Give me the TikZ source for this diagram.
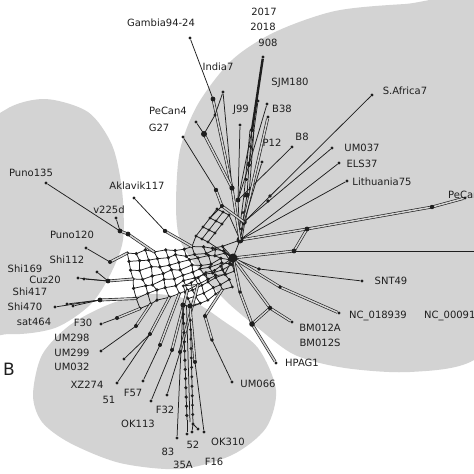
\documentclass[tikz,border=0pt]{standalone}
\usepackage{fontspec}
\setmainfont{DejaVu Sans}
\usetikzlibrary{calc}
\definecolor{blobgray}{RGB}{211,211,211}
\definecolor{ink}{RGB}{30,30,30}
\begin{document}
\begin{tikzpicture}[x=1pt,y=-1pt,
  edge/.style={line width=0.75pt, ink},
  band/.style={double=blobgray, double distance=1.5pt, line width=0.65pt, ink},
  thickband/.style={line width=2.4pt, ink},
  leaf/.style={circle, fill=ink, inner sep=0pt, minimum size=3.2pt},
  lab/.style={font=\fontsize{10}{11}\selectfont, inner sep=0pt, text=black!88}]
\useasboundingbox (0,0) rectangle (474,474);
\clip (0,0) rectangle (474,474);
% blobs
\fill[blobgray] plot[smooth cycle] coordinates {(-30,150) (5,110) (45,99) (88,112) (112,145) (122,190) (123,240) (110,275) (90,305) (55,328) (10,334) (-30,322)};
\fill[blobgray] plot[smooth cycle] coordinates {(176,205) (180,150) (198,104) (232,60) (275,32) (335,11) (405,4) (480,2) (530,100) (530,300) (474,360) (410,372) (345,368) (295,355) (258,328) (225,300) (198,268) (180,240)};
\fill[blobgray] plot[smooth cycle] coordinates {(33,395) (42,355) (70,325) (110,304) (150,294) (190,300) (222,320) (258,348) (276,390) (266,428) (232,455) (180,469) (120,463) (70,443) (42,422)};
% leaves
\node[leaf] (gam) at (190,38) {};
\node[leaf] (n908) at (263,57) {};
\node[leaf] (ind) at (223,92) {};
\node[leaf] (sjm) at (258,101) {};
\node[leaf] (b38a) at (267,104) {};
\node[leaf] (b38b) at (268,117) {};
\node[leaf] (j99) at (240,125) {};
\node[leaf] (pec4) at (196,122) {};
\node[leaf] (g27) at (183,137) {};
\node[leaf] (p12) at (262,162) {};
\node[leaf] (b8) at (292,147) {};
\node[leaf] (saf) at (372,95) {};
\node[leaf] (um037) at (332,148) {};
\node[leaf] (els) at (339,163) {};
\node[leaf] (lit) at (347,181) {};
\node[leaf] (pecan) at (465,198) {};
\node[leaf] (snt) at (362,281) {};
\node[leaf] (nc1) at (339,313) {};
\node[leaf] (bm) at (292,322) {};
\node[leaf] (hpag) at (276,363) {};
\node[leaf] (um066) at (232,382) {};
\node[leaf] (ok310) at (204,432) {};
\node[leaf] (f16) at (198,429) {};
\node[leaf] (n52) at (192,432) {};
\node[leaf] (n35a) at (187,434) {};
\node[leaf] (l83) at (177,438) {};
\node[leaf] (f32) at (167,395) {};
\node[leaf] (n51) at (151,401) {};
\node[leaf] (f57) at (143,381) {};
\node[leaf] (xz) at (117,383) {};
\node[leaf] (um298) at (124,359) {};
\node[leaf] (um299) at (101,351) {};
\node[leaf] (f30) at (101,324) {};
\node[leaf] (shi470) at (55,307) {};
\node[leaf] (sat) at (67,304) {};
\node[leaf] (shi417) at (73,306) {};
\node[leaf] (cuz) at (78,278) {};
\node[leaf] (shi169) at (84,279) {};
\node[leaf] (shi112) at (86,248) {};
\node[leaf] (puno135) at (46,183) {};
\node[leaf] (puno120) at (97,272) {};
\node[leaf] (v225) at (116,218) {};
\node[leaf] (akl) at (134,198) {};
% inner points
\coordinate (K0) at (233,258);
\coordinate (K1) at (240,240);
\coordinate (K2) at (244,222);
\coordinate (K3) at (238,200);
\coordinate (pR1) at (307,229);
\coordinate (pR2) at (432,207);
\coordinate (hR) at (294,251);
\coordinate (hE) at (480,251);
\coordinate (s1) at (259,269);
\coordinate (n1) at (280,287);
\coordinate (b1) at (270,308);
\coordinate (hp) at (252,324);
\coordinate (hq) at (240,292);
\coordinate (g1) at (213,99);
\coordinate (g2) at (232,188);
\coordinate (pc) at (204,134);
\coordinate (pd) at (215,115);
\coordinate (g3) at (216,190);
\coordinate (g4) at (222,206);
\coordinate (t1) at (252,130);
\coordinate (t2) at (247,195);
\coordinate (t3) at (249,165);
\coordinate (a1) at (165,231);
\coordinate (p1) at (120,231);
\coordinate (p2) at (128,234);
\coordinate (l1) at (110,262);
\coordinate (l2) at (108,281);
\coordinate (l3) at (100,300);
\coordinate (q1) at (117,318);
\coordinate (q2) at (136,326);
\coordinate (q3) at (150,334);
\coordinate (q4) at (160,345);
\coordinate (q5) at (172,350);
\coordinate (q6) at (180,352);
\coordinate (bt) at (183,305);
\coordinate (bb) at (187,420);
\coordinate (bt2) at (190,306);
\coordinate (bb2) at (193,424);
\coordinate (q7) at (195,362);
\coordinate (u1) at (212,340);
\coordinate (u2) at (205,316);
\coordinate (m1) at (270,196);
\coordinate (m2) at (268,201);
% fan-shaped lattice web
\pgfmathsetseed{11}
\foreach \i in {0,...,10}{\foreach \j in {0,...,6}{
  \pgfmathsetmacro\cy{280-2.2*\i}
  \pgfmathsetmacro\hh{27-1.5*\i}
  \pgfmathsetmacro\wx{126+9.6*\i+2.2*\j+2*rand}
  \pgfmathsetmacro\wy{\cy+(\j/3-1)*\hh+2*rand}
  \coordinate (w-\i-\j) at (\wx,\wy);
}}
\foreach \i [evaluate=\i as \ni using int(\i+1)] in {0,...,9}{\foreach \j in {0,...,6}{\draw[edge] (w-\i-\j) -- (w-\ni-\j);}}
\foreach \i in {0,...,10}{\foreach \j [evaluate=\j as \nj using int(\j+1)] in {0,...,5}{\draw[edge] (w-\i-\j) -- (w-\i-\nj);}}
\foreach \i in {0,...,10}{\foreach \j in {0,...,6}{\fill[ink] (w-\i-\j) circle (1.8pt);}}
% lower web
\foreach \i in {0,...,5}{\foreach \j in {0,...,3}{
  \pgfmathsetmacro\zx{182+8*\i+3*\j+1.5*rand}
  \pgfmathsetmacro\zy{286-4*\i+7*\j+1.5*rand}
  \coordinate (z-\i-\j) at (\zx,\zy);
}}
\foreach \i [evaluate=\i as \ni using int(\i+1)] in {0,...,4}{\foreach \j in {0,...,3}{\draw[edge] (z-\i-\j) -- (z-\ni-\j);}}
\foreach \i in {0,...,5}{\foreach \j [evaluate=\j as \nj using int(\j+1)] in {0,...,2}{\draw[edge] (z-\i-\j) -- (z-\i-\nj);}}
\foreach \i in {0,...,5}{\foreach \j in {0,...,3}{\fill[ink] (z-\i-\j) circle (1.6pt);}}
\draw[edge] (z-5-0) -- (K0);
\draw[edge] (z-5-1) -- (K0);
\draw[edge] (z-0-0) -- (w-6-6);
% small upper web
\foreach \i in {0,...,3}{\foreach \j in {0,...,2}{
  \coordinate (v-\i-\j) at ({196+7*\i+6*\j},{236-9*\i+3*\j});
}}
\foreach \i [evaluate=\i as \ni using int(\i+1)] in {0,...,2}{\foreach \j in {0,...,2}{\draw[edge] (v-\i-\j) -- (v-\ni-\j);}}
\foreach \i in {0,...,3}{\foreach \j [evaluate=\j as \nj using int(\j+1)] in {0,...,1}{\draw[edge] (v-\i-\j) -- (v-\i-\nj);}}
\foreach \i in {0,...,3}{\foreach \j in {0,...,2}{\fill[ink] (v-\i-\j) circle (1.6pt);}}
\draw[edge] (v-3-2) -- (K1);
\draw[edge] (v-0-0) -- (w-7-0);
\draw[edge] (v-0-2) -- (K0);
% right side
\draw[band] (pecan) -- (pR2) -- (pR1) -- (K1);
\draw[edge] (hE) -- (hR);
\draw[band] (hR) -- (K0);
\draw[band] (hR) -- (pR1);
\draw[edge] (lit) -- (K1);
\draw[edge] (els) -- (K1);
\draw[edge] (um037) -- (K2);
\draw[edge] (saf) -- (K2);
\draw[edge] (b8) -- (K3);
\draw[edge] (snt) -- (s1) -- (K0);
\draw[band] (nc1) -- (n1) -- (K0);
\draw[band] (bm) -- (b1) -- (K0);
\draw[band] (hpag) -- (hp) -- (hq) -- (K0);
\draw[band] (hp) -- (b1);
\draw[edge] (K0) -- (K1) -- (K2);
\fill[ink] (pR1) circle (2.4pt) (pR2) circle (2.2pt) (hR) circle (2.4pt) (s1) circle (1.8pt) (n1) circle (1.8pt) (b1) circle (2.2pt) (hp) circle (2.8pt) (hq) circle (1.8pt) (m1) circle (1.8pt) (m2) circle (1.8pt);
\fill[ink] (K0) circle (4.5pt) (K1) circle (3.5pt) (K2) circle (2.8pt) (K3) circle (2.4pt);
% upper
\draw[thickband] (n908) -- (t1);
\draw[edge] (t1) -- (t3) -- (t2) -- (K1);
\draw[edge] ($(t1)+(-2,0)$) -- ($(t2)+(-3,0)$) -- ($(K1)+(-2,0)$);
\draw[edge] ($(t1)+(2,0)$) -- ($(t2)+(2,0)$) -- ($(K1)+(2,0)$);
\draw[edge] (sjm) -- (t3) -- (K3);
\draw[edge] (b38a) -- (t3);
\draw[band] (b38b) -- (K2);
\draw[edge] (j99) -- (K3) -- (K1);
\draw[edge] (ind) -- (g2);
\draw[edge] (gam) -- (g1);
\draw[band] (g1) -- (g2) -- (K1);
\draw[edge] (pec4) -- (pc);
\draw[band] (pc) -- (g2);
\draw[edge] (pc) -- (pd) -- (ind);
\draw[edge] (g27) -- (g3);
\draw[band] (g3) -- (g4) -- (K2);
\draw[edge] (g4) -- (v-2-0);
\draw[edge] (p12) -- (K2);
\draw[edge] (t1) -- (K3);
\foreach \t in {0.15,0.3,...,0.95}{\fill[ink] ($(t1)!\t!(K1)$) circle (1.6pt);}
\fill[ink] (g1) circle (2.4pt) (pc) circle (3pt) (pd) circle (1.6pt) (g2) circle (2.6pt) (g3) circle (2.2pt) (g4) circle (2pt) (t1) circle (2pt) (t2) circle (2.6pt) (t3) circle (2pt);
% left
\draw[edge] (akl) -- (a1);
\draw[band] (a1) -- (w-7-0);
\draw[edge] (puno135) -- (p1);
\draw[edge] (v225) -- (p1);
\draw[band] (p1) -- (p2) -- (w-3-0);
\draw[edge] (shi112) -- (l1);
\draw[band] (l1) -- (w-0-0);
\draw[edge] (cuz) -- (l2);
\draw[edge] (shi169) -- (l2);
\draw[edge] (puno120) -- (l2);
\draw[band] (l2) -- (w-0-3);
\draw[edge] (shi470) -- (l3);
\draw[edge] (sat) -- (l3);
\draw[edge] (shi417) -- (l3);
\draw[band] (l3) -- (w-0-5);
\foreach \j in {0,...,6}{\draw[edge] (w-10-\j) -- (K0);}
\draw[edge] (w-10-0) -- (K1);
\fill[ink] (a1) circle (2.2pt) (p1) circle (2.4pt) (p2) circle (2.4pt) (l1) circle (2pt) (l2) circle (2.4pt) (l3) circle (2.4pt);
% bottom
\draw[edge] (f30) -- (q1);
\draw[band] (q1) -- (w-0-6);
\draw[edge] (um299) -- (q2);
\draw[band] (q2) -- (w-1-6);
\draw[edge] (um298) -- (q3);
\draw[edge] (xz) -- (q3);
\draw[band] (q3) -- (w-3-6);
\draw[edge] (f57) -- (q4);
\draw[band] (q4) -- (w-4-6);
\draw[edge] (n51) -- (q5);
\draw[band] (q5) -- (w-5-6);
\draw[edge] (f32) -- (q6);
\draw[band] (q6) -- (w-6-6);
\draw[edge] (bt) -- (bb);
\draw[edge] (bt2) -- (bb2);
\draw[edge] ($(bt)!0.5!(bt2)$) -- ($(bb)!0.5!(bb2)$);
\draw[edge] (l83) -- (bt);
\draw[edge] (n35a) -- (bb);
\draw[edge] (n52) -- (bb2);
\draw[edge] (f16) -- (bb2);
\draw[edge] (ok310) -- (q7);
\draw[band] (q7) -- (bt2);
\draw[edge] (bt) -- (z-0-3);
\draw[edge] (bt2) -- (z-1-3);
\draw[edge] (um066) -- (u1);
\draw[band] (u1) -- (u2) -- (z-4-3);
\foreach \t in {0.08,0.16,...,1.0}{\fill[ink] ($(bt)!\t!(bb)$) circle (1.8pt); \fill[ink] ($(bt2)!\t+0.04!(bb2)$) circle (1.6pt);}
\fill[ink] (q1) circle (2pt) (q2) circle (2pt) (q3) circle (2pt) (q4) circle (2pt) (q5) circle (2pt) (q6) circle (2pt) (q7) circle (2pt) (u1) circle (1.8pt) (u2) circle (2pt) (bt) circle (2.6pt) (bt2) circle (2.6pt);
% labels
\node[lab] (tgam) at (161,23) {Gambia94-24};
\node[lab] (t2017) at (264,12) {2017};
\node[lab] (t2018) at (263,27) {2018};
\node[lab] (t908) at (268,43) {908};
\node[lab] (tind) at (218,67) {India7};
\node[lab] (tsjm) at (290,83) {SJM180};
\node[lab] (tpec4) at (168,111) {PeCan4};
\node[lab] (tg27) at (159,128) {G27};
\node[lab] (tj99) at (241,110) {J99};
\node[lab] (tb38) at (282,109) {B38};
\node[lab] (tsaf) at (405,91) {S.Africa7};
\node[lab] (tp12) at (272,143) {P12};
\node[lab] (tb8) at (302,137) {B8};
\node[lab] (tum037) at (362,148) {UM037};
\node[lab] (tels) at (362,164) {ELS37};
\node[lab] (tlit) at (382,182) {Lithuania75};
\node[lab, anchor=west] (tpecan) at (448,195) {PeCan18};
\node[lab] (tsnt) at (391,281) {SNT49};
\node[lab] (tnc1) at (378,316) {NC\_018939};
\node[lab, anchor=west] (tnc2) at (424,316) {NC\_000915};
\node[lab] (tbma) at (320,328) {BM012A};
\node[lab] (tbms) at (320,343) {BM012S};
\node[lab] (thpag) at (302,363) {HPAG1};
\node[lab] (tum066) at (258,384) {UM066};
\node[lab] (tok310) at (228,442) {OK310};
\node[lab] (tf16) at (214,462) {F16};
\node[lab] (t52) at (193,445) {52};
\node[lab] (t83) at (168,452) {83};
\node[lab] (t35a) at (183,465) {35A};
\node[lab] (tok113) at (138,424) {OK113};
\node[lab] (tf32) at (165,410) {F32};
\node[lab] (tf57) at (133,393) {F57};
\node[lab] (t51) at (109,400) {51};
\node[lab] (txz) at (87,385) {XZ274};
\node[lab] (tum032) at (72,367) {UM032};
\node[lab] (tum299) at (72,353) {UM299};
\node[lab] (tum298) at (72,338) {UM298};
\node[lab] (tf30) at (83,323) {F30};
\node[lab] (tsat) at (34,322) {sat464};
\node[lab] (tshi470) at (25,307) {Shi470};
\node[lab] (tshi417) at (30,292) {Shi417};
\node[lab] (tcuz) at (45,280) {Cuz20};
\node[lab] (tshi169) at (25,269) {Shi169};
\node[lab] (tshi112) at (67,260) {Shi112};
\node[lab] (tpuno120) at (72,235) {Puno120};
\node[lab] (tv225) at (109,210) {v225d};
\node[lab] (takl) at (137,186) {Aklavik117};
\node[lab] (tpuno135) at (31,173) {Puno135};
\node[font=\fontsize{17}{18}\selectfont, inner sep=0pt, text=black!88] (tB) at (9,369) {B};
\end{tikzpicture}
\end{document}
